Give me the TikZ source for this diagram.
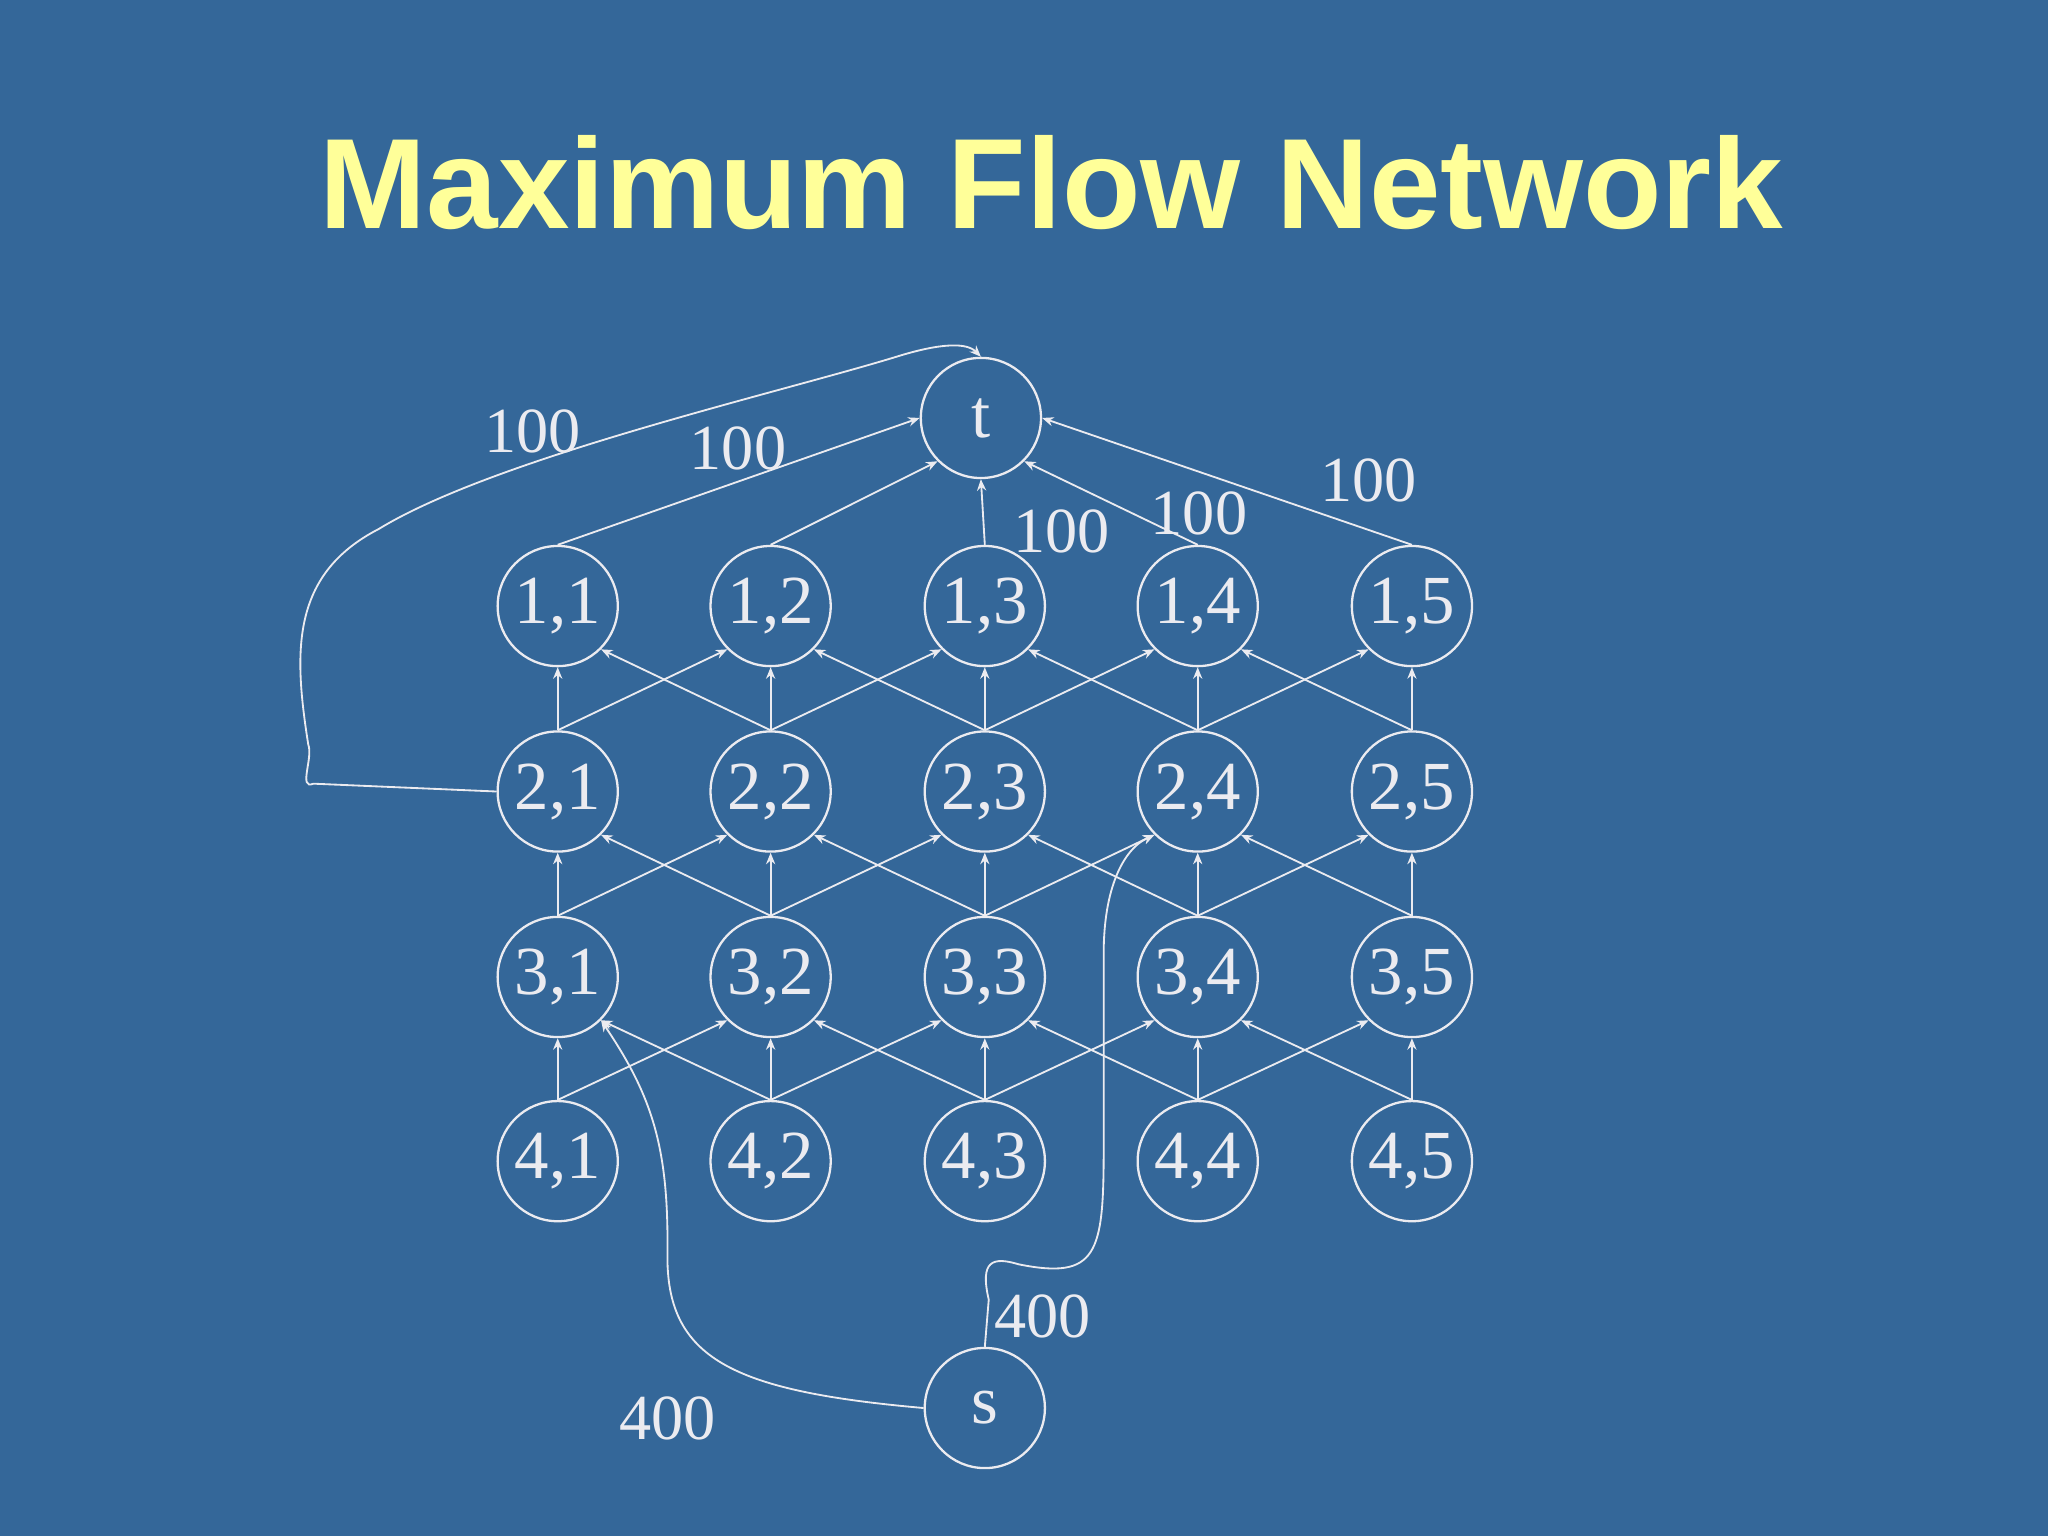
\documentclass[tikz,border=0pt]{standalone}
\usepackage{fontspec}
\setmainfont{Liberation Serif}
\newfontfamily\titlefont{Liberation Sans}
\usetikzlibrary{arrows.meta}
\definecolor{bg}{RGB}{52,103,153}
\definecolor{ttl}{RGB}{255,255,153}
\definecolor{fg}{RGB}{235,235,240}
\begin{document}
\begin{tikzpicture}[x=0.02cm,y=-0.02cm,
  nd/.style={circle,draw=fg,line width=1pt,minimum size=92*0.02cm,inner sep=0pt,text=fg,font=\fontsize{30}{30}\selectfont},
  ar/.style={draw=fg,line width=0.8pt,-{Stealth[length=5pt,width=4pt]}},
  lb/.style={text=fg,font=\fontsize{28}{28}\selectfont}]
\fill[bg] (0,0) rectangle (1568,1176);
\useasboundingbox (0,0) rectangle (1568,1176);
\node[text=ttl,font=\titlefont\bfseries\fontsize{56}{56}\selectfont] (title) at (805,140) {Maximum Flow Network};
\node[nd] (t) at (751,320) {t};
\node[nd] (s) at (754,1078) {s};
\foreach \r/\y in {1/464,2/606,3/748,4/889}{
  \foreach \c/\x in {1/427,2/590,3/754,4/917,5/1081}{
    \node[nd] (n\r\c) at (\x,\y) {\r,\c};
  }
}
\foreach \r [evaluate=\r as \u using int(\r-1)] in {2,3,4}{
  \foreach \c in {1,...,5}{
    \draw[ar] (n\r\c.north) -- (n\u\c.south);
    \ifnum\c>1 \pgfmathtruncatemacro\cl{\c-1}\draw[ar] (n\r\c.north) -- (n\u\cl.south east);\fi
    \ifnum\c<5 \pgfmathtruncatemacro\cr{\c+1}\draw[ar] (n\r\c.north) -- (n\u\cr.south west);\fi
  }
}
\draw[ar] (n11.north) -- (t.west);
\draw[ar] (n12.north) -- (t.south west);
\draw[ar] (n13.north) -- (t.south);
\draw[ar] (n14.north) -- (t.south east);
\draw[ar] (n15.north) -- (t.east);
\draw[ar] (n21.west) -- (240,600) .. controls (228,605) and (240,580) .. (236,570)
  .. controls (225,500) and (222,440) .. (290,405)
  .. controls (380,350) and (600,300) .. (690,272)
  .. controls (720,263) and (740,262) .. (t.north);
\draw[ar] (s.west) .. controls (560,1065) and (510,1040) .. (511,960)
  .. controls (512,880) and (500,840) .. (n31.south east);
\draw[ar] (s.north) -- (757,995) .. controls (750,965) and (760,962) .. (780,968)
  .. controls (840,980) and (845,960) .. (845,880)
  -- (845,730) .. controls (845,680) and (860,650) .. (n24.south west);
\node[lb] (l1) at (408,330) {100};
\node[lb] (l2) at (565,343) {100};
\node[lb] (l3) at (813,407) {100};
\node[lb] (l4) at (918,393) {100};
\node[lb] (l5) at (1048,368) {100};
\node[lb] (l6) at (798,1008) {400};
\node[lb] (l7) at (511,1086) {400};
\end{tikzpicture}
\end{document}
